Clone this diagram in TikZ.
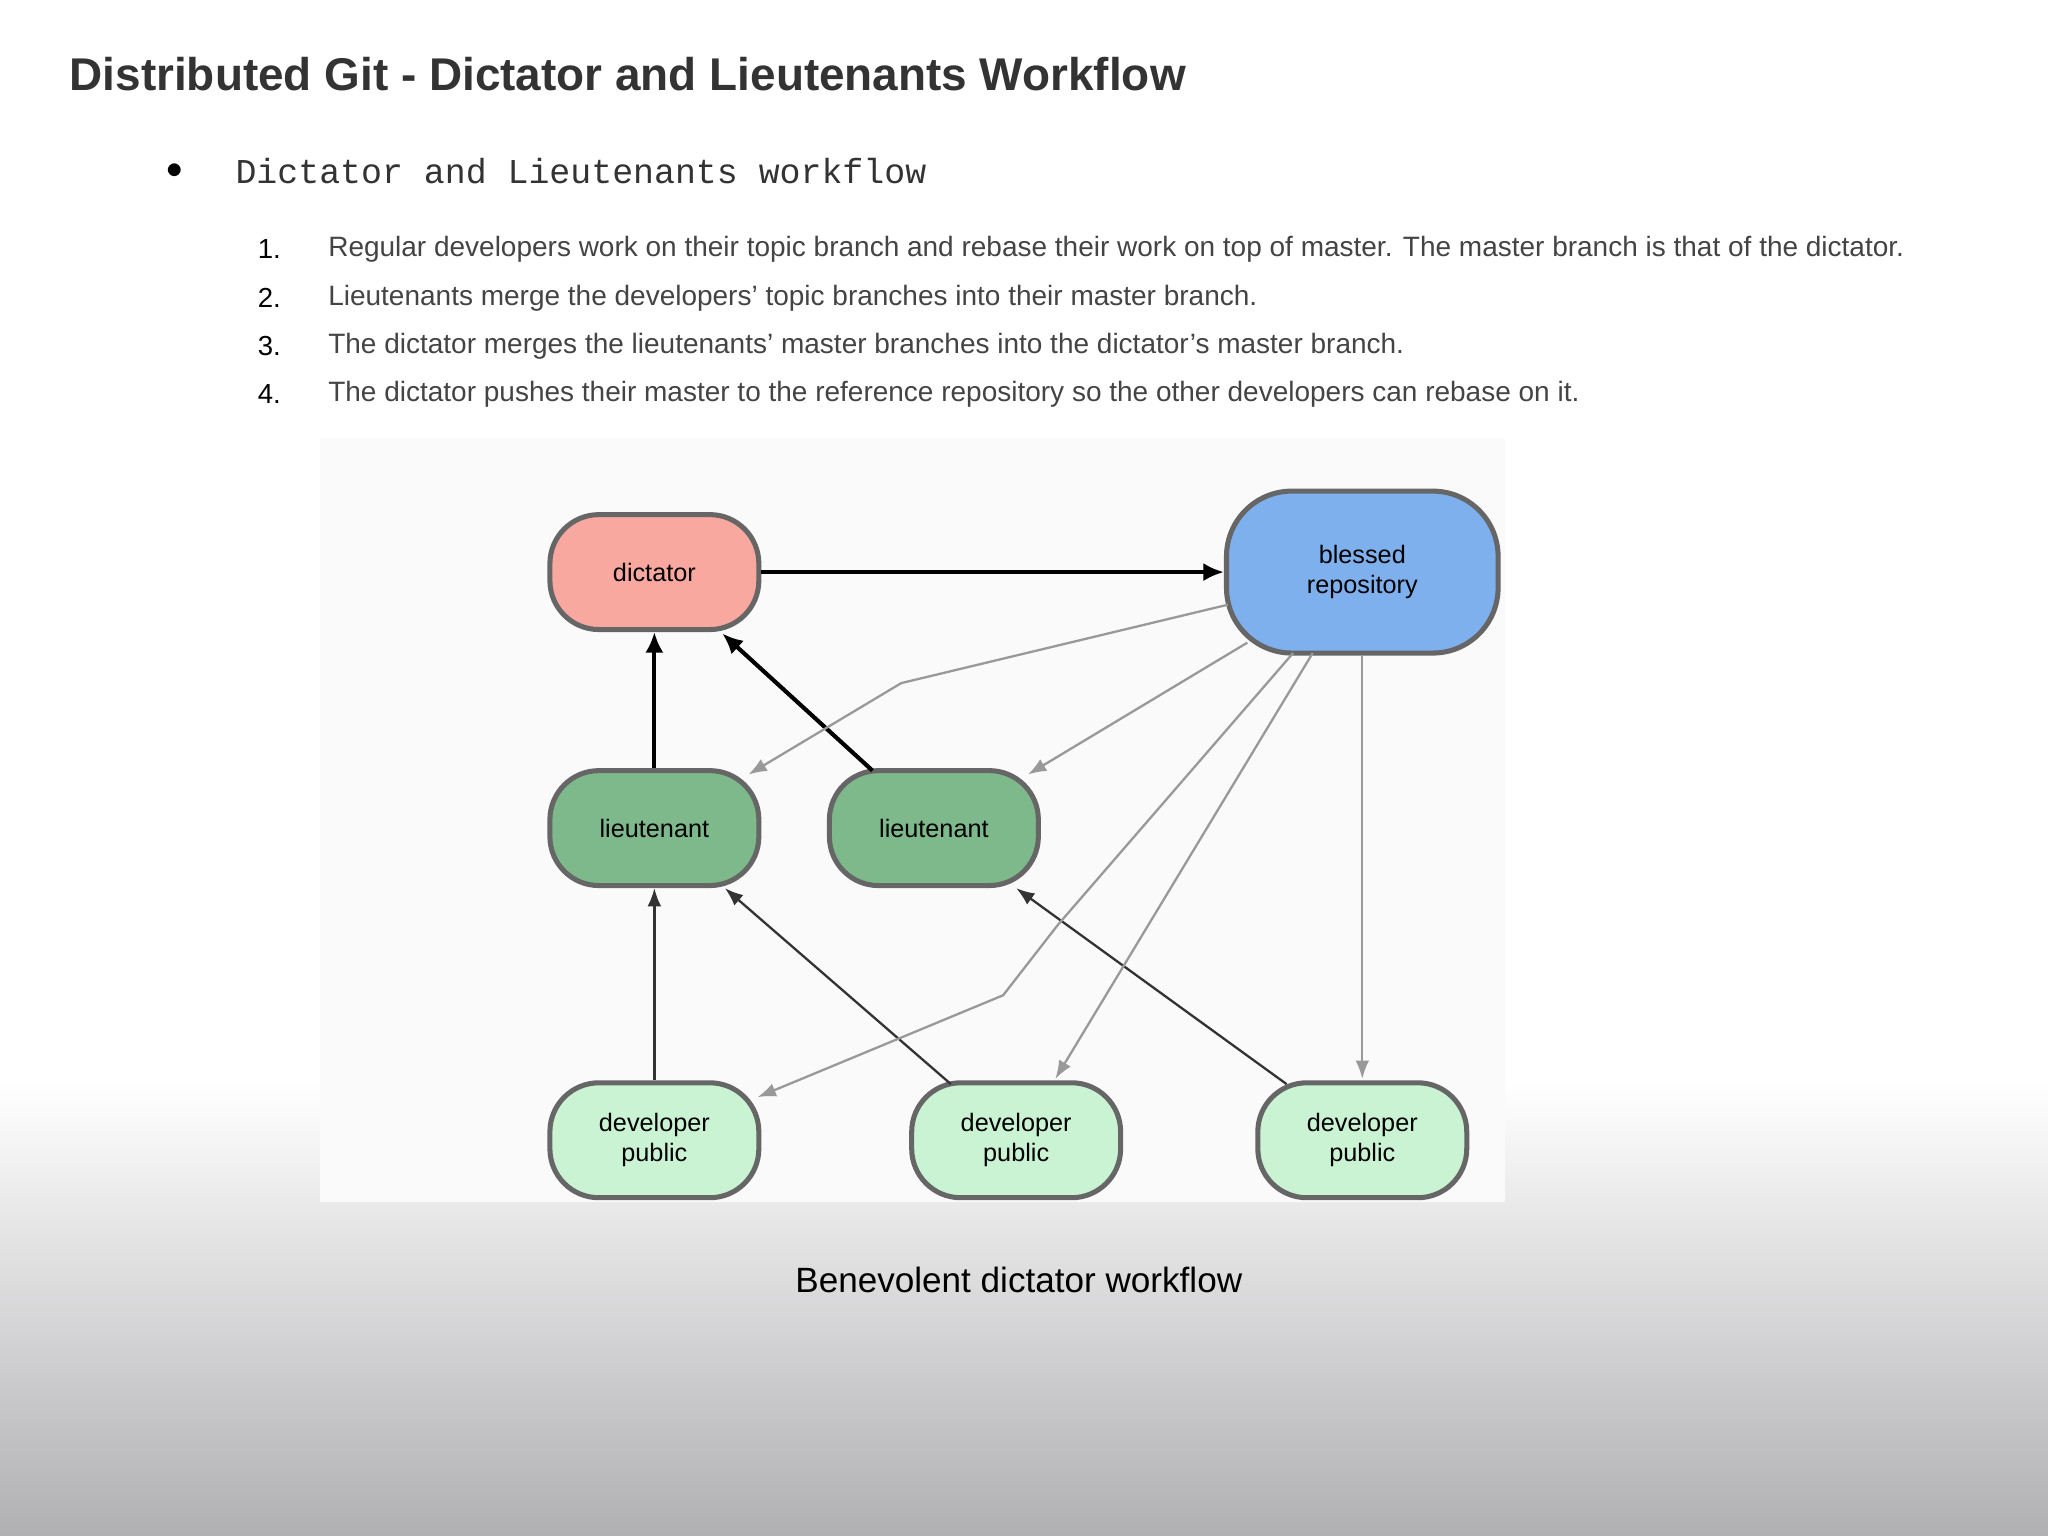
\documentclass[tikz,border=0pt]{standalone}
\usepackage{fontspec}
\setmainfont{Liberation Sans}
\newfontfamily\monof{Liberation Mono}
\usetikzlibrary{arrows.meta}
\definecolor{bggray}{HTML}{B0AFB2}
\definecolor{txt}{HTML}{444444}
\tikzset{
 box/.style={draw=black!60, line width=2.2pt, rounded corners=0.75cm, minimum width=3.2cm, minimum height=1.76cm, align=center, font=\fontsize{11}{13}\selectfont, inner sep=1pt},
 strong/.style={line width=1.8pt, -{Latex[length=9pt,width=8pt]}},
 thin/.style={line width=1pt, draw=black!80, -{Latex[length=8pt,width=6pt]}},
 light/.style={line width=1pt, draw=black!40, -{Latex[length=8pt,width=6pt]}},
}
\begin{document}
\begin{tikzpicture}[x=0.02cm,y=-0.02cm]
\useasboundingbox (0,0) rectangle (1568,1176);
\fill[white] (0,0) rectangle (1568,830);
\shade[top color=white, bottom color=bggray] (0,829) rectangle (1568,1176);
\fill[black!2] (245,335) rectangle (1152,920);
\node[anchor=west, font=\bfseries\fontsize{20}{23}\selectfont, text=black!80, inner sep=0pt] (title) at (53,57) {Distributed Git - Dictator and Lieutenants Workflow};
\node[font=\fontsize{14}{16}\selectfont] (bul) at (134,131) {$\bullet$};
\node[anchor=west, font=\monof\fontsize{15.2}{17}\selectfont, text=black!80, inner sep=0pt] (sub) at (180,131) {Dictator and Lieutenants workflow};
\foreach \n/\y/\t in {1/191/{Regular developers work on their topic branch and rebase their work on top of master. The master branch is that of the dictator.},
 2/228/{Lieutenants merge the developers’ topic branches into their master branch.},
 3/265/{The dictator merges the lieutenants’ master branches into the dictator’s master branch.},
 4/302/{The dictator pushes their master to the reference repository so the other developers can rebase on it.}}{
 \node[anchor=west, font=\fontsize{12}{14}\selectfont, inner sep=0pt] (num\n) at (197,\y) {\n.};
 \node[anchor=west, font=\fontsize{12.2}{14}\selectfont, text=txt, inner sep=0pt] (li\n) at (251,\y) {\t};
}
\node[box, fill={rgb,255:red,249;green,168;blue,160}] (dict) at (501,438) {dictator};
\node[box, fill={rgb,255:red,127;green,176;blue,238}, minimum width=4.16cm, minimum height=2.48cm, rounded corners=1cm] (bless) at (1043,438) {blessed\\repository};
\node[box, fill={rgb,255:red,125;green,185;blue,138}] (lt1) at (501,634) {lieutenant};
\node[box, fill={rgb,255:red,125;green,185;blue,138}] (lt2) at (715,634) {lieutenant};
\node[box, fill={rgb,255:red,201;green,243;blue,211}] (d1) at (501,873) {developer\\public};
\node[box, fill={rgb,255:red,201;green,243;blue,211}] (d2) at (778,873) {developer\\public};
\node[box, fill={rgb,255:red,201;green,243;blue,211}] (d3) at (1043,873) {developer\\public};
\draw[strong] (dict) -- (bless);
\draw[strong] (lt1) -- (dict);
\draw[strong] (668,590) -- (553,485);
\draw[thin] (d1) -- (lt1);
\draw[thin] (728,830) -- (555,680);
\draw[thin] (985,830) -- (778,680);
\draw[light] (940,463) -- (690,523) -- (573,593);
\draw[light] (955,492) -- (787,593);
\draw[light] (990,500) -- (810,708) -- (768,762) -- (580,840);
\draw[light] (1005,500) -- (808,826);
\draw[light] (bless) -- (1043,826);
\node[font=\fontsize{15.3}{18}\selectfont] (cap) at (780,980) {Benevolent dictator workflow};
\end{tikzpicture}
\end{document}
